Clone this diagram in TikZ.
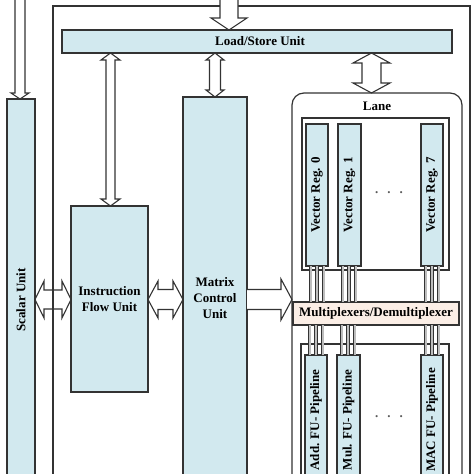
\documentclass[tikz,border=0pt]{standalone}
\usepackage{fontspec}
\setmainfont{Liberation Serif}
\usetikzlibrary{calc}
\definecolor{boxblue}{HTML}{D2E9EF}
\definecolor{muxfill}{HTML}{FBEEE6}
\definecolor{edgec}{HTML}{333333}
\definecolor{wirefill}{HTML}{BDBDBD}

% vertical double-headed hollow arrow: #2 top point, #3 bottom point, #4 shaft half width, #5 head half width, #6 head length
\newcommand{\VDArrow}[6][]{%
  \draw[hollow,#1] let \p1=(#2), \p2=(#3) in
  (\x1,\y1) -- (\x1+#5,\y1-#6) -- (\x1+#4,\y1-#6) -- (\x1+#4,\y2+#6) -- (\x1+#5,\y2+#6) --
  (\x1,\y2) -- (\x1-#5,\y2+#6) -- (\x1-#4,\y2+#6) -- (\x1-#4,\y1-#6) -- (\x1-#5,\y1-#6) -- cycle;}
% horizontal double-headed hollow arrow: #2 left point, #3 right point
\newcommand{\HDArrow}[6][]{%
  \draw[hollow,#1] let \p1=(#2), \p2=(#3) in
  (\x1,\y1) -- (\x1+#6,\y1+#5) -- (\x1+#6,\y1+#4) -- (\x2-#6,\y1+#4) -- (\x2-#6,\y1+#5) --
  (\x2,\y1) -- (\x2-#6,\y1-#5) -- (\x2-#6,\y1-#4) -- (\x1+#6,\y1-#4) -- (\x1+#6,\y1-#5) -- cycle;}
% single down arrow: #2 start, #3 tip
\newcommand{\DownArrow}[6][]{%
  \draw[hollow,#1] let \p1=(#2), \p2=(#3) in
  (\x1-#4,\y1) -- (\x1-#4,\y2+#6) -- (\x1-#5,\y2+#6) -- (\x1,\y2) -- (\x1+#5,\y2+#6) -- (\x1+#4,\y2+#6) -- (\x1+#4,\y1);}
% single right arrow: #2 start, #3 tip
\newcommand{\RightArrow}[6][]{%
  \draw[hollow,#1] let \p1=(#2), \p2=(#3) in
  (\x1,\y1+#4) -- (\x2-#6,\y1+#4) -- (\x2-#6,\y1+#5) -- (\x2,\y1) -- (\x2-#6,\y1-#5) -- (\x2-#6,\y1-#4) -- (\x1,\y1-#4);}

\begin{document}
\begin{tikzpicture}[x=1pt,y=-1pt,
  blk/.style={draw=edgec, line width=1.2pt, fill=boxblue, inner sep=0pt, outer sep=0pt, anchor=north west},
  frm/.style={draw=edgec, line width=1.2pt, inner sep=0pt, outer sep=0pt, anchor=north west},
  lbl/.style={font=\fontsize{13}{16}\selectfont\bfseries, text=black, align=center, inner sep=0pt},
  rlbl/.style={lbl, rotate=90},
  hollow/.style={draw=edgec, line width=1.1pt, fill=white, line join=miter},
  wire/.style={draw=edgec, line width=0.8pt, double=wirefill, double distance=2pt},
  dots/.style={font=\fontsize{13}{16}\selectfont\bfseries, text=black!65, inner sep=0pt}
]
\clip (0,0) rectangle (474,474);
\fill[white] (0,0) rectangle (474,474);

% outer frame
\node[frm, minimum width=417pt, minimum height=500pt] (frame) at (53,6) {};

% units
\node[blk, minimum width=390pt, minimum height=23pt] (lsu) at (62,30) {};
\node[lbl] (lsut) at ($(lsu.center)+(3,0)$) {Load/Store Unit};
\node[blk, minimum width=28pt, minimum height=400pt] (scalar) at (7,99) {};
\node[rlbl] (scalart) at (21,300) {Scalar Unit};
\node[blk, minimum width=77pt, minimum height=186pt] (ifu) at (71,206) {};
\node[lbl] (ifut) at (ifu.center) {Instruction\\Flow Unit};
\node[blk, minimum width=64pt, minimum height=400pt] (mcu) at (183,97) {};
\node[lbl] (mcut) at (215,298) {Matrix\\Control\\Unit};

% lane
\node[frm, rounded corners=12pt, minimum width=170pt, minimum height=400pt] (lane) at (292,93) {};
\node[lbl] (lanet) at (377,106) {Lane};
\node[frm, minimum width=147pt, minimum height=152pt] (regbox) at (302,118) {};
\node[frm, minimum width=148pt, minimum height=200pt] (fubox) at (301,344) {};

\node[blk, minimum width=22pt, minimum height=142pt] (vr0) at (306,124) {};
\node[blk, minimum width=23pt, minimum height=142pt] (vr1) at (338,124) {};
\node[blk, minimum width=22pt, minimum height=142pt] (vr7) at (421,124) {};
\node[rlbl] (vr0t) at (vr0.center) {Vector Reg. 0};
\node[rlbl] (vr1t) at (vr1.center) {Vector Reg. 1};
\node[rlbl] (vr7t) at (vr7.center) {Vector Reg. 7};
\node[dots] (vrdots) at (389,193) {.\hspace{9pt}.\hspace{9pt}.};

\node[blk, fill=muxfill, minimum width=166pt, minimum height=23pt] (mux) at (293,302) {};
\node[lbl] (muxt) at (mux.center) {Multiplexers/Demultiplexer};

\node[blk, minimum width=22pt, minimum height=140pt] (fu0) at (305,355) {};
\node[blk, minimum width=23pt, minimum height=140pt] (fu1) at (337,355) {};
\node[blk, minimum width=22pt, minimum height=140pt] (fu7) at (421,355) {};
\node[rlbl] (fu0t) at (fu0.north |- 0,420) {Add. FU- Pipeline};
\node[rlbl] (fu1t) at (fu1.north |- 0,420) {Mul. FU- Pipeline};
\node[rlbl] (fu7t) at (fu7.north |- 0,420) {MAC FU- Pipeline};
\node[dots] (fudots) at (389,417) {.\hspace{9pt}.\hspace{9pt}.};

% wires
\foreach \r in {vr0,vr1,vr7}{
  \foreach \o in {4.5,11,17.5}{
    \coordinate (w) at ($(\r.south west)+(\o,0)$);
    \draw[wire] (w) -- (w |- mux.north);
  }
}
\foreach \r in {fu0,fu1,fu7}{
  \foreach \o in {4.5,11,17.5}{
    \coordinate (w) at ($(\r.north west)+(\o,0)$);
    \draw[wire] (w) -- (w |- mux.south);
  }
}

% arrows
\coordinate (topin) at (229,-6);
\DownArrow{topin}{topin |- lsu.north}{9pt}{18pt}{12pt}
\coordinate (scin) at (20,-6);
\DownArrow{scin}{scin |- scalar.north}{5pt}{9pt}{6pt}
\coordinate (ia) at (110.5,0);
\VDArrow{ia |- lsu.south}{ia |- ifu.north}{4.5pt}{9.5pt}{7pt}
\VDArrow{mcu.north |- lsu.south}{mcu.north}{5.5pt}{9pt}{7pt}
\coordinate (la) at (371.5,0);
\VDArrow{la |- lsu.south}{la |- lane.north}{9.5pt}{18.5pt}{10pt}
\coordinate (ha) at (0,299.5);
\HDArrow[fill=none]{scalar.east |- ha}{ifu.west |- ha}{9.5pt}{18.5pt}{9pt}
\HDArrow{ifu.east |- ha}{mcu.west |- ha}{10pt}{18.5pt}{10pt}
\RightArrow{mcu.east |- ha}{lane.west |- ha}{10pt}{20.5pt}{11pt}
\end{tikzpicture}
\end{document}
